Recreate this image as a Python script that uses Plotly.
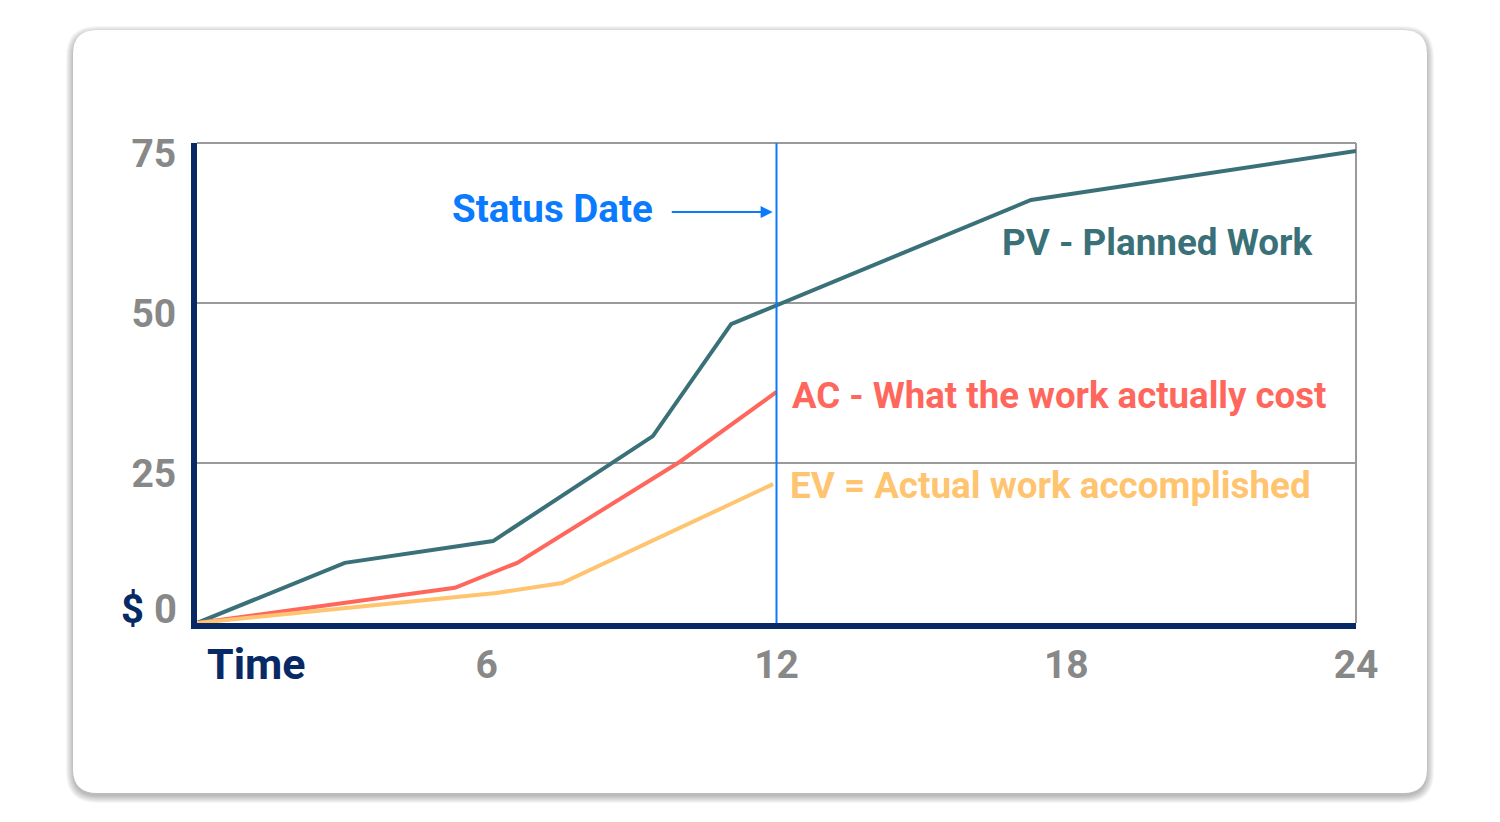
import plotly.graph_objects as go

# ---- data ----
pv_t = [0, 3.06, 6.13, 9.44, 11.06, 17.27, 24]
pv_v = [0, 9.4, 12.8, 29.2, 46.7, 66.1, 73.75]
ac_t = [0, 5.34, 6.63, 10.0, 12.0]
ac_v = [0, 5.5, 9.4, 25.2, 36.1]
ev_t = [0, 6.2, 7.56, 11.93]
ev_v = [0, 4.7, 6.25, 21.7]
x_ticks = [6, 12, 18, 24]
y_ticks = [25, 50, 75]
status_date = 12

W, H = 1500, 822
L, R, T, B = 197, 144, 143, 199
PW, PH = W - L - R, H - T - B

def px(x):
    return (x - L) / PW

def py(y):
    return (H - B - y) / PH

NAVY = "#072a66"
GRAY = "#888888"
TEAL = "#3a7178"
CORAL = "#ff675c"
ORANGE = "#ffc46f"
BLUE = "#0a7aff"
FONT = "Roboto"

fig = go.Figure()
fig.add_trace(go.Scatter(x=pv_t, y=pv_v, mode="lines", line=dict(color=TEAL, width=4), hoverinfo="skip"))
fig.add_trace(go.Scatter(x=ac_t, y=ac_v, mode="lines", line=dict(color=CORAL, width=4), hoverinfo="skip"))
fig.add_trace(go.Scatter(x=ev_t, y=ev_v, mode="lines", line=dict(color=ORANGE, width=4), hoverinfo="skip"))


def rrect(x0, y0, x1, y1, r):
    def P(x, y):
        return f"{px(x):.6f},{py(y):.6f}"
    return (f"M {P(x0 + r, y0)} L {P(x1 - r, y0)} Q {P(x1, y0)} {P(x1, y0 + r)} "
            f"L {P(x1, y1 - r)} Q {P(x1, y1)} {P(x1 - r, y1)} L {P(x0 + r, y1)} "
            f"Q {P(x0, y1)} {P(x0, y1 - r)} L {P(x0, y0 + r)} Q {P(x0, y0)} {P(x0 + r, y0)} Z")

shapes = []
# card shadow (approx. box-shadow 0 3px 7px)
for s in [7, 6, 5, 4, 3, 2, 1, 0]:
    shapes.append(dict(type="path", xref="paper", yref="paper", layer="below",
                       path=rrect(73 - s, 30 + 3 - s, 1427 + s, 793 + 3 + s, 24 + s),
                       fillcolor="rgba(0,0,0,0.036)", line=dict(width=0)))
shapes.append(dict(type="path", xref="paper", yref="paper", layer="below",
                   path=rrect(73, 30, 1427, 793, 24), fillcolor="white", line=dict(width=0)))
# right and top border
shapes.append(dict(type="line", xref="paper", yref="paper", x0=1, x1=1, y0=0, y1=1,
                   line=dict(color="#9a9a9a", width=2), layer="below"))
shapes.append(dict(type="line", xref="paper", yref="paper", x0=0, x1=1, y0=1, y1=1,
                   line=dict(color="#9a9a9a", width=2), layer="below"))
# status date line
shapes.append(dict(type="line", xref="x", yref="paper", x0=status_date, x1=status_date, y0=0, y1=1,
                   line=dict(color=BLUE, width=2)))
fig.update_layout(shapes=shapes)

ann = []
ann.append(dict(x=9.48, y=64.7, text="Status Date", showarrow=False, xanchor="right", yanchor="middle",
                font=dict(family=FONT, size=38.5, color=BLUE, weight=700)))
ann.append(dict(x=11.92, y=64.2, ax=9.8, ay=64.2, axref="x", ayref="y", text="", showarrow=True,
                arrowhead=2, arrowsize=1.2, arrowwidth=2, arrowcolor=BLUE))
ann.append(dict(x=16.63, y=59.4, text="PV - Planned Work", showarrow=False, xanchor="left", yanchor="middle",
                font=dict(family=FONT, size=36.8, color=TEAL, weight=700)))
ann.append(dict(x=12.28, y=35.6, text="AC - What the work actually cost", showarrow=False, xanchor="left",
                yanchor="middle", font=dict(family=FONT, size=36.6, color=CORAL, weight=700)))
ann.append(dict(x=12.24, y=21.5, text="EV = Actual work accomplished", showarrow=False, xanchor="left",
                yanchor="middle", font=dict(family=FONT, size=36.8, color=ORANGE, weight=700)))
ann.append(dict(xref="paper", yref="paper", x=px(205), y=py(664), text="Time", showarrow=False,
                xanchor="left", yanchor="middle", font=dict(family=FONT, size=43, color=NAVY, weight=700)))
ann.append(dict(xref="paper", yref="paper", x=px(179), y=py(609),
                text=f'<span style="color:{NAVY}">$</span> 0', showarrow=False,
                xanchor="right", yanchor="middle", font=dict(family=FONT, size=40, color=GRAY, weight=700)))
fig.update_layout(annotations=ann)

fig.update_layout(
    width=W, height=H,
    margin=dict(l=L, r=R, t=T, b=B, pad=0),
    paper_bgcolor="white", plot_bgcolor="rgba(0,0,0,0)",
    showlegend=False,
    xaxis=dict(range=[0, 24], tickvals=x_ticks, ticktext=[str(v) for v in x_ticks],
               showgrid=False, zeroline=False, showline=True, linecolor=NAVY, linewidth=6,
               ticks="", ticklabelstandoff=2,
               tickfont=dict(family=FONT, size=39, color=GRAY, weight=700), fixedrange=True),
    yaxis=dict(range=[0, 75], tickvals=y_ticks, ticktext=[str(v) for v in y_ticks],
               showgrid=True, gridcolor="#9a9a9a", gridwidth=2, zeroline=False,
               showline=True, linecolor=NAVY, linewidth=6, ticks="", ticklabelstandoff=7,
               ticklabelshift=10,
               tickfont=dict(family=FONT, size=39, color=GRAY, weight=700), fixedrange=True),
)

fig.write_html("out.html", config={"displayModeBar": False},
               post_script="document.body.style.margin='0';document.body.style.overflow='hidden';")
